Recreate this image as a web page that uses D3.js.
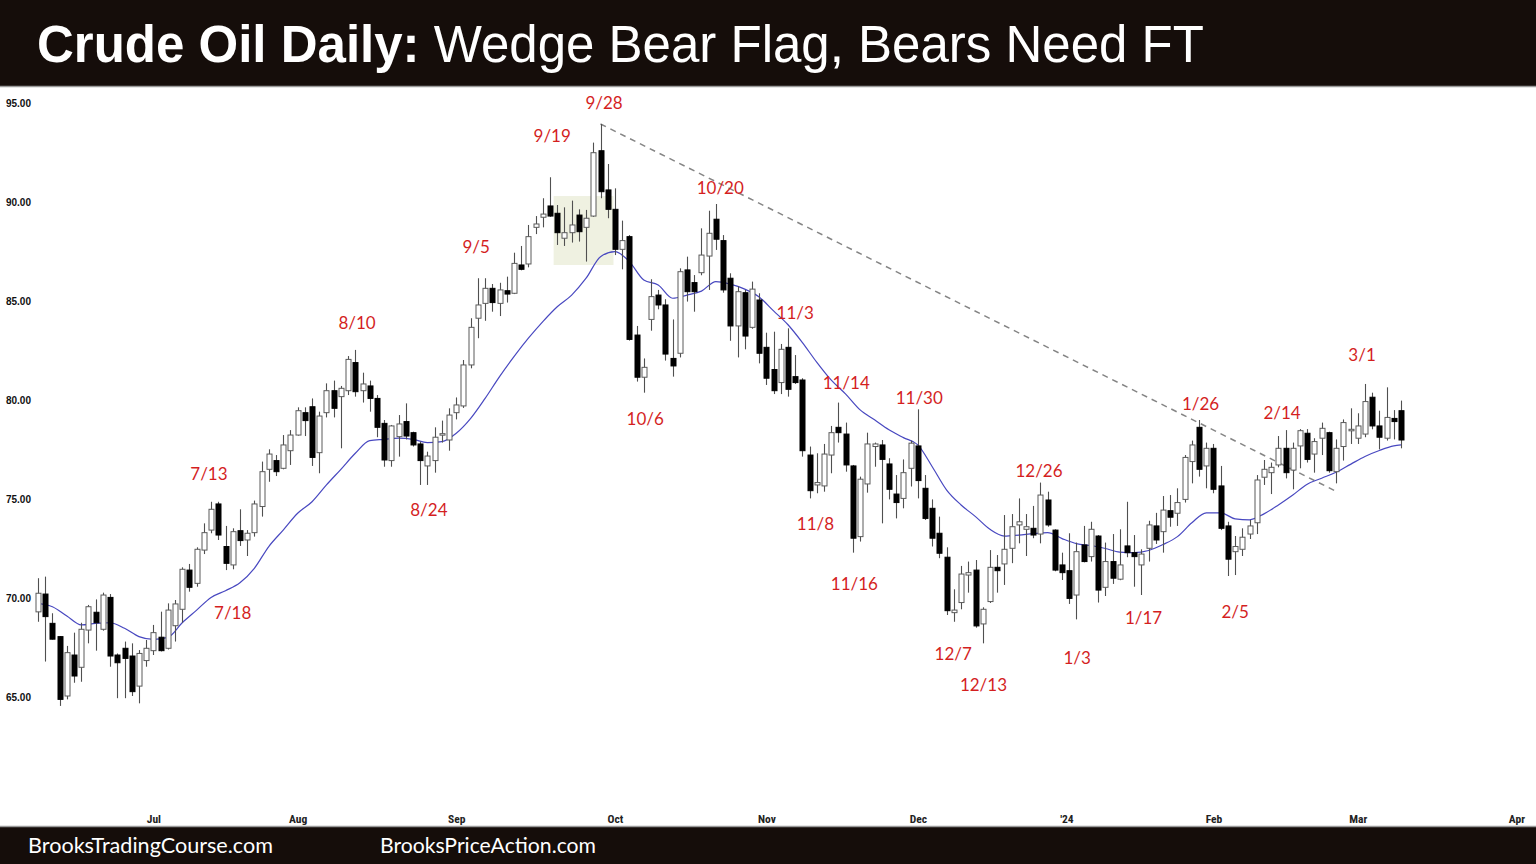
<!DOCTYPE html>
<html>
<head>
<meta charset="utf-8">
<script src="https://cdn.jsdelivr.net/npm/d3@7"></script>
<style>
  html, body { margin: 0; padding: 0; background: #fff; }
  svg { display: block; }
</style>
</head>
<body>
<svg id="chart" width="1536" height="864"></svg>
<script>
// ---------- DATA ----------
const opens = [69.3,70.2,68.72,68.05,65.05,67.12,66.5,68.38,69.28,68.42,70.03,67.12,67.46,67.07,65.55,66.84,67.34,68.02,67.46,68.6,
69.43,71.41,70.74,72.42,73.43,74.75,72.6,71.67,73.4,72.93,73.3,74.62,76.5,76.94,76.55,77.44,78.23,79.36,79.66,77.34,
79.36,80.47,80.17,80.47,81.89,80.47,80.71,80.08,78.82,76.94,78.15,78.91,78.35,77.78,76.67,76.94,78.28,77.98,79.36,79.7,
81.77,84.13,84.88,85.64,84.88,85.52,85.39,86.82,86.87,88.72,89.23,89.8,89.43,88.17,88.45,89.34,88.72,89.29,92.59,90.61,
89.63,87.61,88.25,83.28,81.15,84.07,85.3,84.8,82.1,82.36,86.57,85.93,86.43,87.27,89.13,88.05,86.15,83.74,85.42,83.67,
85.05,82.66,81.54,80.88,82.66,81.18,81.01,77.22,75.71,75.66,77.22,78.62,78.28,76.67,73.1,75.76,77.65,77.73,76.77,75.25,
75.03,76.55,77.68,75.54,74.53,73.27,72.06,69.26,69.77,71.16,71.41,68.69,69.82,71.55,71.72,72.51,73.69,73.47,73.52,73.23,
74.95,73.43,71.67,71.38,70.15,72.68,72.09,73.13,70.54,71.84,70.95,72.63,72.29,71.67,72.51,73.64,73.35,74.41,74.28,74.98,
76.89,78.62,76.67,77.56,75.66,73.64,72.34,72.46,73.23,73.8,76.1,76.33,76.72,77.56,76.46,77.68,78.32,77.27,78.07,78.35,
76.38,77.65,78.45,78.07,78.28,80.14,78.69,78.07,79.07,79.46];
const highs = [71.0,71.08,69.23,68.08,67.58,68.25,68.75,69.65,69.93,70.27,70.2,67.2,67.8,67.71,67.37,67.88,68.64,69.31,69.73,69.9,
71.55,71.72,72.56,73.77,74.86,74.86,73.64,73.52,74.48,73.43,74.92,76.89,77.51,77.22,78.23,78.48,79.63,79.63,80.08,79.41,
80.84,80.98,80.71,82.22,82.53,81.38,80.98,80.25,78.99,78.74,79.24,79.83,78.4,77.9,77.39,78.62,78.96,79.58,80.13,82.02,
84.13,86.15,86.15,85.86,85.92,86.23,87.44,87.78,88.84,89.29,90.19,91.25,89.85,89.73,90.07,89.63,89.6,93.0,93.94,91.92,
90.69,89.06,88.33,83.74,82.1,86.1,85.56,85.09,84.07,86.65,87.24,86.31,88.67,89.56,89.9,88.33,86.4,85.73,85.56,85.98,
85.39,83.4,83.45,82.83,83.62,82.27,81.1,77.65,77.31,77.78,78.69,79.87,78.86,76.72,76.13,78.35,77.85,77.98,77.06,76.21,
77.0,77.95,79.53,76.21,74.98,74.11,72.56,70.44,71.62,71.84,71.92,69.53,72.42,72.17,74.19,74.24,75.03,74.24,74.65,75.83,
75.37,73.47,72.29,73.27,72.8,73.64,73.85,73.18,72.8,73.23,73.47,74.86,73.18,72.46,73.9,74.3,75.15,75.2,75.54,77.22,
77.95,78.99,77.85,77.78,76.67,73.85,73.13,73.52,73.94,76.21,76.97,76.84,78.18,78.48,77.85,78.53,78.53,78.07,78.86,78.4,
78.01,79.02,79.58,79.33,80.81,80.37,79.46,80.64,79.49,79.97];
const lows = [68.8,66.79,67.9,64.55,64.88,65.72,65.77,67.71,67.34,68.35,66.53,64.94,64.94,65.05,64.68,66.53,67.12,67.3,67.4,67.8,
68.75,70.32,70.57,72.22,73.27,72.93,71.41,71.45,72.63,72.12,73.1,74.11,75.87,76.16,76.5,76.72,78.2,78.18,76.67,76.3,
79.12,79.12,77.56,80.25,80.17,79.87,79.41,78.12,76.63,76.63,77.14,78.01,77.65,75.71,75.71,76.33,77.85,77.44,79.02,79.6,
81.6,83.12,84.0,84.46,84.24,84.92,85.35,86.55,86.7,88.38,88.72,89.25,87.83,87.78,87.95,88.0,86.99,89.25,90.19,89.18,
87.32,86.6,83.0,80.93,80.37,83.5,84.58,81.99,81.18,82.15,84.97,84.46,86.3,85.56,87.58,85.42,82.99,82.15,82.56,83.6,
81.85,80.76,80.3,80.3,80.17,80.81,77.14,75.03,75.29,75.37,76.3,77.85,76.38,72.29,72.85,75.32,76.63,73.77,74.98,74.02,
74.53,75.63,75.03,73.94,72.6,72.01,69.14,68.8,69.43,70.27,68.5,67.71,69.75,70.27,70.66,71.76,72.76,72.12,73.02,72.76,
73.6,71.35,70.91,69.7,68.92,71.8,71.84,69.77,70.1,70.71,70.9,72.06,70.57,70.15,71.84,72.73,72.29,73.6,73.64,74.82,
75.79,76.13,75.54,75.29,73.43,71.11,71.16,72.12,72.98,73.23,75.71,75.25,76.6,76.04,75.49,76.55,76.84,76.33,77.22,76.33,
75.79,76.94,77.78,77.78,78.12,78.52,77.51,77.95,78.01,77.56];
const closes = [70.24,69.06,67.92,64.88,67.24,66.06,68.42,69.56,68.75,70.15,67.07,66.73,66.95,65.27,67.2,67.46,68.25,67.34,69.39,69.7,
71.45,70.54,72.46,73.3,74.48,73.18,71.75,73.35,72.9,73.27,74.75,76.38,77.27,76.38,77.73,78.23,79.46,78.96,77.1,79.19,
80.47,79.58,80.59,82.05,80.42,80.81,80.08,78.62,76.97,78.69,78.79,78.18,77.73,76.94,77.17,78.12,78.3,79.24,79.75,81.77,
83.67,84.8,85.64,84.92,85.56,85.35,86.9,86.6,88.25,88.89,89.39,89.29,88.45,88.45,88.84,88.5,89.18,92.49,90.52,89.63,
87.61,88.05,83.06,81.15,81.65,85.22,84.8,82.32,81.72,86.48,85.47,85.47,87.32,88.42,88.12,85.56,83.74,85.47,83.23,85.6,
82.36,81.1,80.47,82.56,80.54,80.88,77.44,75.42,75.83,77.27,78.35,78.35,76.72,73.02,76.0,77.78,77.78,77.0,75.49,74.82,
76.33,77.82,75.93,74.02,73.02,72.26,69.36,69.39,71.21,71.28,68.59,69.43,71.55,71.38,72.46,73.6,73.85,73.6,73.18,75.2,
73.69,71.41,71.28,69.98,72.34,71.84,73.47,70.4,71.84,71.0,71.67,72.29,72.09,72.22,73.69,72.93,74.44,74.08,74.82,77.1,
77.73,76.5,77.56,75.49,73.52,71.96,72.6,73.07,73.64,75.96,76.5,76.6,77.56,76.33,77.56,78.45,77.0,77.9,78.57,76.43,
77.56,78.86,78.52,78.69,79.92,78.69,78.12,79.12,78.91,77.98];

// 20-bar moving average at every other bar
const maBars   = [0,2,4,6,8,10,12,14,16,18,20,22,24,26,28,30,32,34,36,38,40,42,44,46,48,50,52,54,56,58,60,62,64,66,68,70,72,74,76,78,
80,82,84,86,88,90,92,94,96,98,100,102,104,106,108,110,112,114,116,118,120,122,124,126,128,130,132,134,136,138,140,142,144,146,148,150,
152,154,156,158,160,162,164,166,168,170,172,174,176,178,180,182,184,186,188,189];
const maValues = [69.73,69.56,69.09,68.64,68.72,68.75,68.47,68.05,67.91,68.01,68.75,69.39,70.03,70.37,70.77,71.5,72.6,73.43,74.28,74.86,
75.71,76.5,77.31,77.95,78.01,78.07,78.01,77.85,77.9,78.32,79.07,80.08,81.18,82.19,83.12,83.96,84.71,85.3,86.15,87.24,
87.49,86.99,86.06,85.81,85.14,85.3,85.5,85.98,85.85,85.6,85.2,84.5,83.8,82.9,81.9,81.0,80.3,79.5,79.0,78.5,
78.1,77.73,76.63,75.45,74.7,74.11,73.47,73.13,73.18,73.25,73.3,73.0,72.75,72.65,72.5,72.32,
72.29,72.4,72.7,73.1,73.8,74.3,74.3,74.0,73.95,74.25,74.7,75.2,75.75,76.05,76.35,76.75,77.15,77.45,77.68,77.73];

const yTicks = [65, 70, 75, 80, 85, 90, 95];
const monthBars   = [16, 36, 58, 80, 101, 122, 142.6, 163, 183, 205];
const monthLabels = ["Jul", "Aug", "Sep", "Oct", "Nov", "Dec", "'24", "Feb", "Mar", "Apr"];

// swing annotations: label, bar position, price level
const noteText  = ["9/28","9/19","10/20","9/5","8/10","11/3","3/1","11/14","11/30","1/26","2/14","10/6","7/13","12/26","8/24","11/8","11/16","7/18","2/5","1/17","12/7","1/3","12/13"];
const noteBar   = [78.5,71.3,94.6,60.75,44.24,105.0,183.6,112.07,122.2,161.2,172.5,84.2,23.7,138.8,54.2,107.8,113.2,27.0,166.0,153.3,126.9,144.1,131.1];
const notePrice = [95.0,93.33,90.71,87.73,83.89,84.39,82.27,80.86,80.1,79.8,79.34,79.04,76.26,76.41,74.44,73.74,70.71,69.24,69.29,68.99,67.17,66.97,65.61];

// bear trend line (9/28 high to late Feb) and the tight trading range box in September
const trendBars   = [78, 180.2];
const trendPrices = [93.94, 75.35];
const boxBars     = [71.5, 79.8];
const boxPrices   = [86.82, 90.3];

const titleBold  = "Crude Oil Daily:";
const titleRest  = " Wedge Bear Flag, Bears Need FT";
const footerLeft  = "BrooksTradingCourse.com";
const footerRight = "BrooksPriceAction.com";

// ---------- DRAW ----------
const svg = d3.select("#chart");
const W = 1536, H = 864;

const x = d3.scaleLinear().domain([0, 189]).range([38, 1401]);
const y = d3.scaleLinear().domain([65, 95]).range([697, 103]);

svg.append("rect").attr("width", W).attr("height", H).attr("fill", "#ffffff");

// header
svg.append("rect").attr("x", 0).attr("y", 0).attr("width", W).attr("height", 86).attr("fill", "#150d0a");
svg.append("line").attr("x1", 0).attr("x2", W).attr("y1", 86.5).attr("y2", 86.5).attr("stroke", "#9a9a9a").attr("stroke-width", 1.5);
const title = svg.append("text").attr("x", 37).attr("y", 62)
  .attr("font-family", "'Liberation Sans', Arial, sans-serif").attr("font-size", 51).attr("fill", "#ffffff");
title.append("tspan").attr("font-weight", "bold").text(titleBold);
title.append("tspan").attr("font-weight", "normal").text(titleRest);

// footer
svg.append("rect").attr("x", 0).attr("y", 827).attr("width", W).attr("height", H - 827).attr("fill", "#150d0a");
svg.append("line").attr("x1", 0).attr("x2", W).attr("y1", 826.5).attr("y2", 826.5).attr("stroke", "#9a9a9a").attr("stroke-width", 1.5);
svg.append("text").attr("x", 28).attr("y", 853).attr("font-family", "Lato, 'Open Sans', sans-serif")
  .attr("font-size", 21).attr("fill", "#ffffff").attr("textLength", 245).attr("lengthAdjust", "spacingAndGlyphs").text(footerLeft);
svg.append("text").attr("x", 380).attr("y", 853).attr("font-family", "Lato, 'Open Sans', sans-serif")
  .attr("font-size", 21).attr("fill", "#ffffff").attr("textLength", 216).attr("lengthAdjust", "spacingAndGlyphs").text(footerRight);

// y axis labels
const yAxis = d3.axisLeft(y).tickValues(yTicks).tickSize(0).tickFormat(d => d3.format(".2f")(d));
const gy = svg.append("g").attr("transform", "translate(31,0)").call(yAxis);
gy.select(".domain").remove();
gy.selectAll("text").attr("x", 0).attr("text-anchor", "end").attr("dy", "0.35em")
  .attr("font-family", "'Liberation Sans', Arial, sans-serif").attr("font-weight", "bold").attr("font-size", 10).attr("fill", "#111");

// x axis labels
const xAxis = d3.axisBottom(x).tickValues(monthBars).tickSize(0).tickFormat((d, i) => monthLabels[i]);
const gx = svg.append("g").attr("transform", "translate(0,815)").call(xAxis);
gx.select(".domain").remove();
gx.selectAll("text").attr("y", 0).attr("dy", "0.71em")
  .attr("font-family", "'Liberation Sans Narrow', 'Roboto Condensed', 'Liberation Sans', Arial, sans-serif")
  .attr("font-weight", "bold").attr("font-size", 11.5).attr("fill", "#222");

// shaded box
svg.append("rect")
  .attr("x", x(boxBars[0])).attr("y", y(boxPrices[1]))
  .attr("width", x(boxBars[1]) - x(boxBars[0])).attr("height", y(boxPrices[0]) - y(boxPrices[1]))
  .attr("fill", "#eff1e1");

// trend line
svg.append("line")
  .attr("x1", x(trendBars[0])).attr("y1", y(trendPrices[0]))
  .attr("x2", x(trendBars[1])).attr("y2", y(trendPrices[1]))
  .attr("stroke", "#858585").attr("stroke-width", 1.5).attr("stroke-dasharray", "6,5");

// moving average
const maPts = maBars.map((b, i) => [b, maValues[i]]);
svg.append("path").datum(maPts)
  .attr("d", d3.line().x(d => x(d[0])).y(d => y(d[1])).curve(d3.curveMonotoneX))
  .attr("fill", "none").attr("stroke", "#4848c0").attr("stroke-width", 1.2);

// candles
const bars = opens.map((o, i) => ({ i, o, h: highs[i], l: lows[i], c: closes[i] }));
const bw = 5;
const g = svg.append("g");
g.selectAll("line.wick").data(bars).join("line").attr("class", "wick")
  .attr("x1", d => Math.round(x(d.i)) + 0.5).attr("x2", d => Math.round(x(d.i)) + 0.5)
  .attr("y1", d => y(d.h)).attr("y2", d => y(d.l))
  .attr("stroke", "#505050").attr("stroke-width", 1.1);
g.selectAll("rect.body").data(bars).join("rect").attr("class", "body")
  .attr("x", d => Math.round(x(d.i)) + 0.5 - bw / 2)
  .attr("y", d => y(Math.max(d.o, d.c)))
  .attr("width", bw)
  .attr("height", d => Math.max(1.5, Math.abs(y(d.o) - y(d.c))))
  .attr("fill", d => d.c >= d.o ? "#ffffff" : "#000000")
  .attr("stroke", d => d.c >= d.o ? "#5a5a5a" : "#000000")
  .attr("stroke-width", 1);

// annotations
svg.append("g").selectAll("text").data(noteText).join("text")
  .attr("x", (d, i) => x(noteBar[i])).attr("y", (d, i) => y(notePrice[i]))
  .attr("text-anchor", "middle").attr("dy", "0.35em")
  .attr("font-family", "Lato, 'Open Sans', sans-serif").attr("font-size", 17)
  .attr("fill", "#d41f1f").text(d => d);
</script>
</body>
</html>
